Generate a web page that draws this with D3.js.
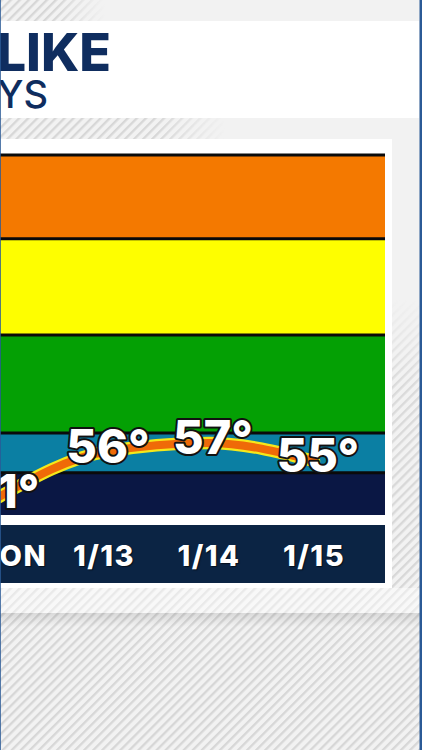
<!DOCTYPE html>
<html><head><meta charset="utf-8">
<script src="https://cdn.jsdelivr.net/npm/d3@7"></script>
<style>html,body{margin:0;padding:0;background:#f2f2f2;overflow:hidden}svg{display:block}</style>
</head><body>
<svg id="c" width="422" height="750"></svg>
<script>
const days = ["MON", "1/13", "1/14", "1/15"];
const feelsLike = [51, 56, 57, 55];
const bandEdges = [49, 53.7, 58.1, 69, 79.7, 89];
const bandColors = ["#0a1744", "#0b7fa3", "#04a004", "#fefe00", "#f47900"];
const titleLines = ["FEELS LIKE", "NEXT 7 DAYS"];

const W = 422, H = 750;
const svg = d3.select("#c");
const defs = svg.append("defs");
const FONT = "Inter, 'Open Sans', sans-serif";

// stripe pattern
const pat = defs.append("pattern").attr("id", "stripes").attr("patternUnits", "userSpaceOnUse")
  .attr("width", 6.4).attr("height", 20).attr("patternTransform", "rotate(45)");
pat.append("rect").attr("width", 2.3).attr("height", 20).attr("fill", "#d7d7d7");

function fadeMask(id, x1, y1, x2, y2, stops) {
  const g = defs.append("linearGradient").attr("id", id + "g")
    .attr("x1", x1).attr("y1", y1).attr("x2", x2).attr("y2", y2);
  stops.forEach(s => g.append("stop").attr("offset", s[0]).attr("stop-color", "#fff").attr("stop-opacity", s[1]));
  const m = defs.append("mask").attr("id", id).attr("maskContentUnits", "objectBoundingBox");
  m.append("rect").attr("width", 1).attr("height", 1).attr("fill", `url(#${id}g)`);
}
fadeMask("mTop", 0, 0, 1, 0, [[0, 1], [0.55, 1], [1, 0]]);
fadeMask("mMid", 0, 0, 1, 0, [[0, 1], [0.7, 1], [1, 0]]);
fadeMask("mRight", 0, 0, 0, 1, [[0, 0], [0.3, 0.9], [1, 1]]);

const sh = defs.append("linearGradient").attr("id", "shadow").attr("x1", 0).attr("y1", 0).attr("x2", 0).attr("y2", 1);
sh.append("stop").attr("offset", 0).attr("stop-color", "#000").attr("stop-opacity", 0.10);
sh.append("stop").attr("offset", 1).attr("stop-color", "#000").attr("stop-opacity", 0);

// background
svg.append("rect").attr("width", W).attr("height", H).attr("fill", "#f2f2f2");
svg.append("rect").attr("x", 0).attr("y", 0).attr("width", 105).attr("height", 21).attr("fill", "url(#stripes)").attr("mask", "url(#mTop)");
svg.append("rect").attr("x", 0).attr("y", 118).attr("width", 225).attr("height", 21).attr("fill", "url(#stripes)").attr("mask", "url(#mMid)");
svg.append("rect").attr("x", 392).attr("y", 300).attr("width", 28).attr("height", 288).attr("fill", "url(#stripes)").attr("mask", "url(#mRight)");
svg.append("rect").attr("x", 0).attr("y", 588).attr("width", W).attr("height", H - 588).attr("fill", "url(#stripes)");
svg.append("rect").attr("x", 0).attr("y", 588).attr("width", W).attr("height", 25).attr("fill", "#fff").attr("opacity", 0.45);
svg.append("rect").attr("x", 0).attr("y", 613).attr("width", W).attr("height", 14).attr("fill", "url(#shadow)");

// header
svg.append("rect").attr("x", 0).attr("y", 21).attr("width", 419).attr("height", 97).attr("fill", "#fff");
svg.append("text").attr("x", 111).attr("y", 71).attr("text-anchor", "end")
  .attr("font-family", FONT).attr("font-weight", 800).attr("font-size", 52).attr("fill", "#0f2d5f").text(titleLines[0]);
svg.append("text").attr("x", 48).attr("y", 107.5).attr("text-anchor", "end")
  .attr("font-family", FONT).attr("font-weight", 500).attr("font-size", 38).attr("fill", "#0f2d5f").text(titleLines[1]);

// card
svg.append("rect").attr("x", 0).attr("y", 139).attr("width", 392).attr("height", 449).attr("fill", "#fff");

// scales
const plotL = 0, plotR = 385, plotT = 155, plotB = 515;
const x = d3.scalePoint().domain(days).range([-1, 314]);
const y = d3.scaleLinear().domain([bandEdges[0], bandEdges[bandEdges.length - 1]]).range([plotB, plotT]);

// bands
const bands = d3.pairs(bandEdges);
svg.append("g").selectAll("rect").data(bands).join("rect")
  .attr("x", plotL).attr("width", plotR - plotL)
  .attr("y", d => y(d[1])).attr("height", d => y(d[0]) - y(d[1]))
  .attr("fill", (d, i) => bandColors[i]);
svg.append("g").selectAll("line").data(bandEdges.slice(1)).join("line")
  .attr("x1", plotL).attr("x2", plotR).attr("y1", d => y(d)).attr("y2", d => y(d))
  .attr("stroke", "#0a0a0a").attr("stroke-width", 3);

// line
defs.append("clipPath").attr("id", "plotClip").append("rect")
  .attr("x", plotL).attr("y", plotT).attr("width", plotR - plotL).attr("height", plotB - plotT);
const line = d3.line().x((d, i) => x(days[i])).y(d => y(d)).curve(d3.curveMonotoneX);
const lg = svg.append("g").attr("clip-path", "url(#plotClip)");
lg.append("path").attr("d", line(feelsLike)).attr("fill", "none").attr("stroke", "#f5e81a").attr("stroke-width", 12.5).attr("stroke-linecap", "round");
lg.append("path").attr("d", line(feelsLike)).attr("fill", "none").attr("stroke", "#ef6a08").attr("stroke-width", 8).attr("stroke-linecap", "round");

// value labels
svg.append("g").selectAll("text").data(feelsLike).join("text")
  .attr("x", (d, i) => x(days[i]) + 4).attr("y", d => y(d) + 10.5)
  .attr("text-anchor", "middle").attr("font-family", FONT).attr("font-weight", 800).attr("font-size", 47)
  .attr("fill", "#fff").attr("stroke", "#111").attr("stroke-width", 4).attr("paint-order", "stroke")
  .attr("stroke-linejoin", "round")
  .text(d => d + "°");

// x axis bar
svg.append("rect").attr("x", plotL).attr("y", 525).attr("width", plotR - plotL).attr("height", 58).attr("fill", "#0b2444");
svg.append("g").selectAll("text").data(days).join("text")
  .attr("x", (d, i) => x(d) + (i === 0 ? 10 : 0)).attr("y", 566)
  .attr("text-anchor", "middle").attr("font-family", FONT).attr("font-weight", 800).attr("font-size", 29)
  .attr("letter-spacing", 1.5)
  .attr("fill", "#fff").style("text-shadow", "1px 1px 1px rgba(0,0,0,0.6)")
  .text(d => d);

// frame borders
svg.append("rect").attr("x", 419.5).attr("y", 0).attr("width", 2.5).attr("height", H).attr("fill", "#2b5a96");
svg.append("rect").attr("x", 0).attr("y", 0).attr("width", 1).attr("height", H).attr("fill", "#2b5a96").attr("opacity", 0.8);
</script>
</body></html>
